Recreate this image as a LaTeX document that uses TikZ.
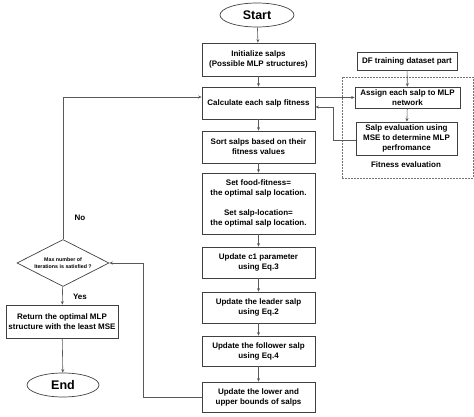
\documentclass[tikz,border=0pt]{standalone}
\usepackage{fontspec}
\setmainfont{Liberation Sans}
\usetikzlibrary{shapes.geometric,arrows.meta}
\begin{document}
\begin{tikzpicture}[x=1pt,y=-1pt,
  box/.style={draw=black!75,line width=0.7pt,fill=white,align=center,inner sep=1pt,
    font=\bfseries\fontsize{8}{10}\selectfont,minimum width=113pt},
  term/.style={draw=black!75,line width=0.7pt,ellipse,inner sep=0pt,font=\bfseries\fontsize{12.5}{14}\selectfont},
  conn/.style={draw=black!65,line width=0.6pt,-{Stealth[length=3.5pt,width=3pt]}},
  lbl/.style={font=\bfseries\fontsize{8}{10}\selectfont,inner sep=0pt}]
\useasboundingbox (0,0) rectangle (474,417);
% main column
\node[term,minimum width=74pt,minimum height=24pt] (start) at (257,15) {Start};
\node[box,minimum height=33pt] (init) at (258.5,59.5) {Initialize salps\\(Possible MLP structures)};
\node[box,minimum height=32pt] (calc) at (258.5,103) {Calculate each salp fitness};
\node[box,minimum height=32pt] (sort) at (258.5,147) {Sort salps based on their\\fitness values};
\node[box,minimum height=61pt] (food) at (258.5,203.5) {Set food-fitness=\\the optimal salp location.\\[10pt]Set salp-location=\\the optimal salp location.};
\node[box,minimum height=31pt] (c1) at (258.5,262.5) {Update c1 parameter\\using Eq.3};
\node[box,minimum height=31pt] (leader) at (258.5,307.5) {Update the leader salp\\using Eq.2};
\node[box,minimum height=30pt] (follow) at (258.5,351) {Update the follower salp\\using Eq.4};
\node[box,minimum height=30pt] (bounds) at (258.5,397) {Update the lower and\\upper bounds of salps};
% left column
\node[diamond,draw=black!75,line width=0.7pt,aspect=2,minimum width=92pt,minimum height=47pt,inner sep=0pt,align=center,
  font=\bfseries\fontsize{5.3}{7}\selectfont] (dec) at (63,263) {Max number of\\Iterations is satisfied ?};
\node[box,minimum width=112pt,minimum height=33pt] (ret) at (62,321.5) {Return the optimal MLP\\structure with the least MSE};
\node[term,minimum width=72pt,minimum height=24pt] (end) at (63,385) {End};
% right side
\node[box,minimum width=100pt,minimum height=18pt] (df) at (407,61) {DF training dataset part};
\node[box,minimum width=105pt,minimum height=21pt,inner sep=0pt] (assign) at (407.5,97.5) {Assign each salp to MLP\\network};
\node[box,minimum width=101pt,minimum height=33pt] (eval) at (406.5,138.5) {Salp evaluation using\\MSE to determine MLP\\perfromance};
\node[draw=black!55,line width=0.6pt,dash pattern=on 1.6pt off 1.4pt,minimum width=131pt,minimum height=101pt,inner sep=0pt] (fitbox) at (407.5,127.5) {};
\node[lbl] (fitlbl) at (406,165) {Fitness evaluation};
\node[lbl] (no) at (80,218) {No};
\node[lbl] (yes) at (80,297) {Yes};
% connectors
\draw[conn] (start) -- (init);
\draw[conn] (init) -- (calc);
\draw[conn] (calc) -- (sort);
\draw[conn] (sort) -- (food);
\draw[conn] (food) -- (c1);
\draw[conn] (c1) -- (leader);
\draw[conn] (leader) -- (follow);
\draw[conn] (follow) -- (bounds);
\draw[conn] (df) -- (assign);
\draw[conn] (assign) -- (eval);
\coordinate (calcR) at (calc.east |- assign.west);
\draw[conn] (calcR) -- (assign.west);
\coordinate (evalL) at ([yshift=-1.5pt]eval.west);
\coordinate (retx) at (333,137);
\draw[conn] (evalL) -| (333,107) -- (calc.east |- 0,107);
\draw[conn] (bounds.west) -| (143,263) -- (dec.east);
\draw[conn] (dec.north) |- (calc.west |- 0,97);
\draw[conn] (dec) -- (ret);
\draw[conn] (ret) -- (end);
\end{tikzpicture}
\end{document}
